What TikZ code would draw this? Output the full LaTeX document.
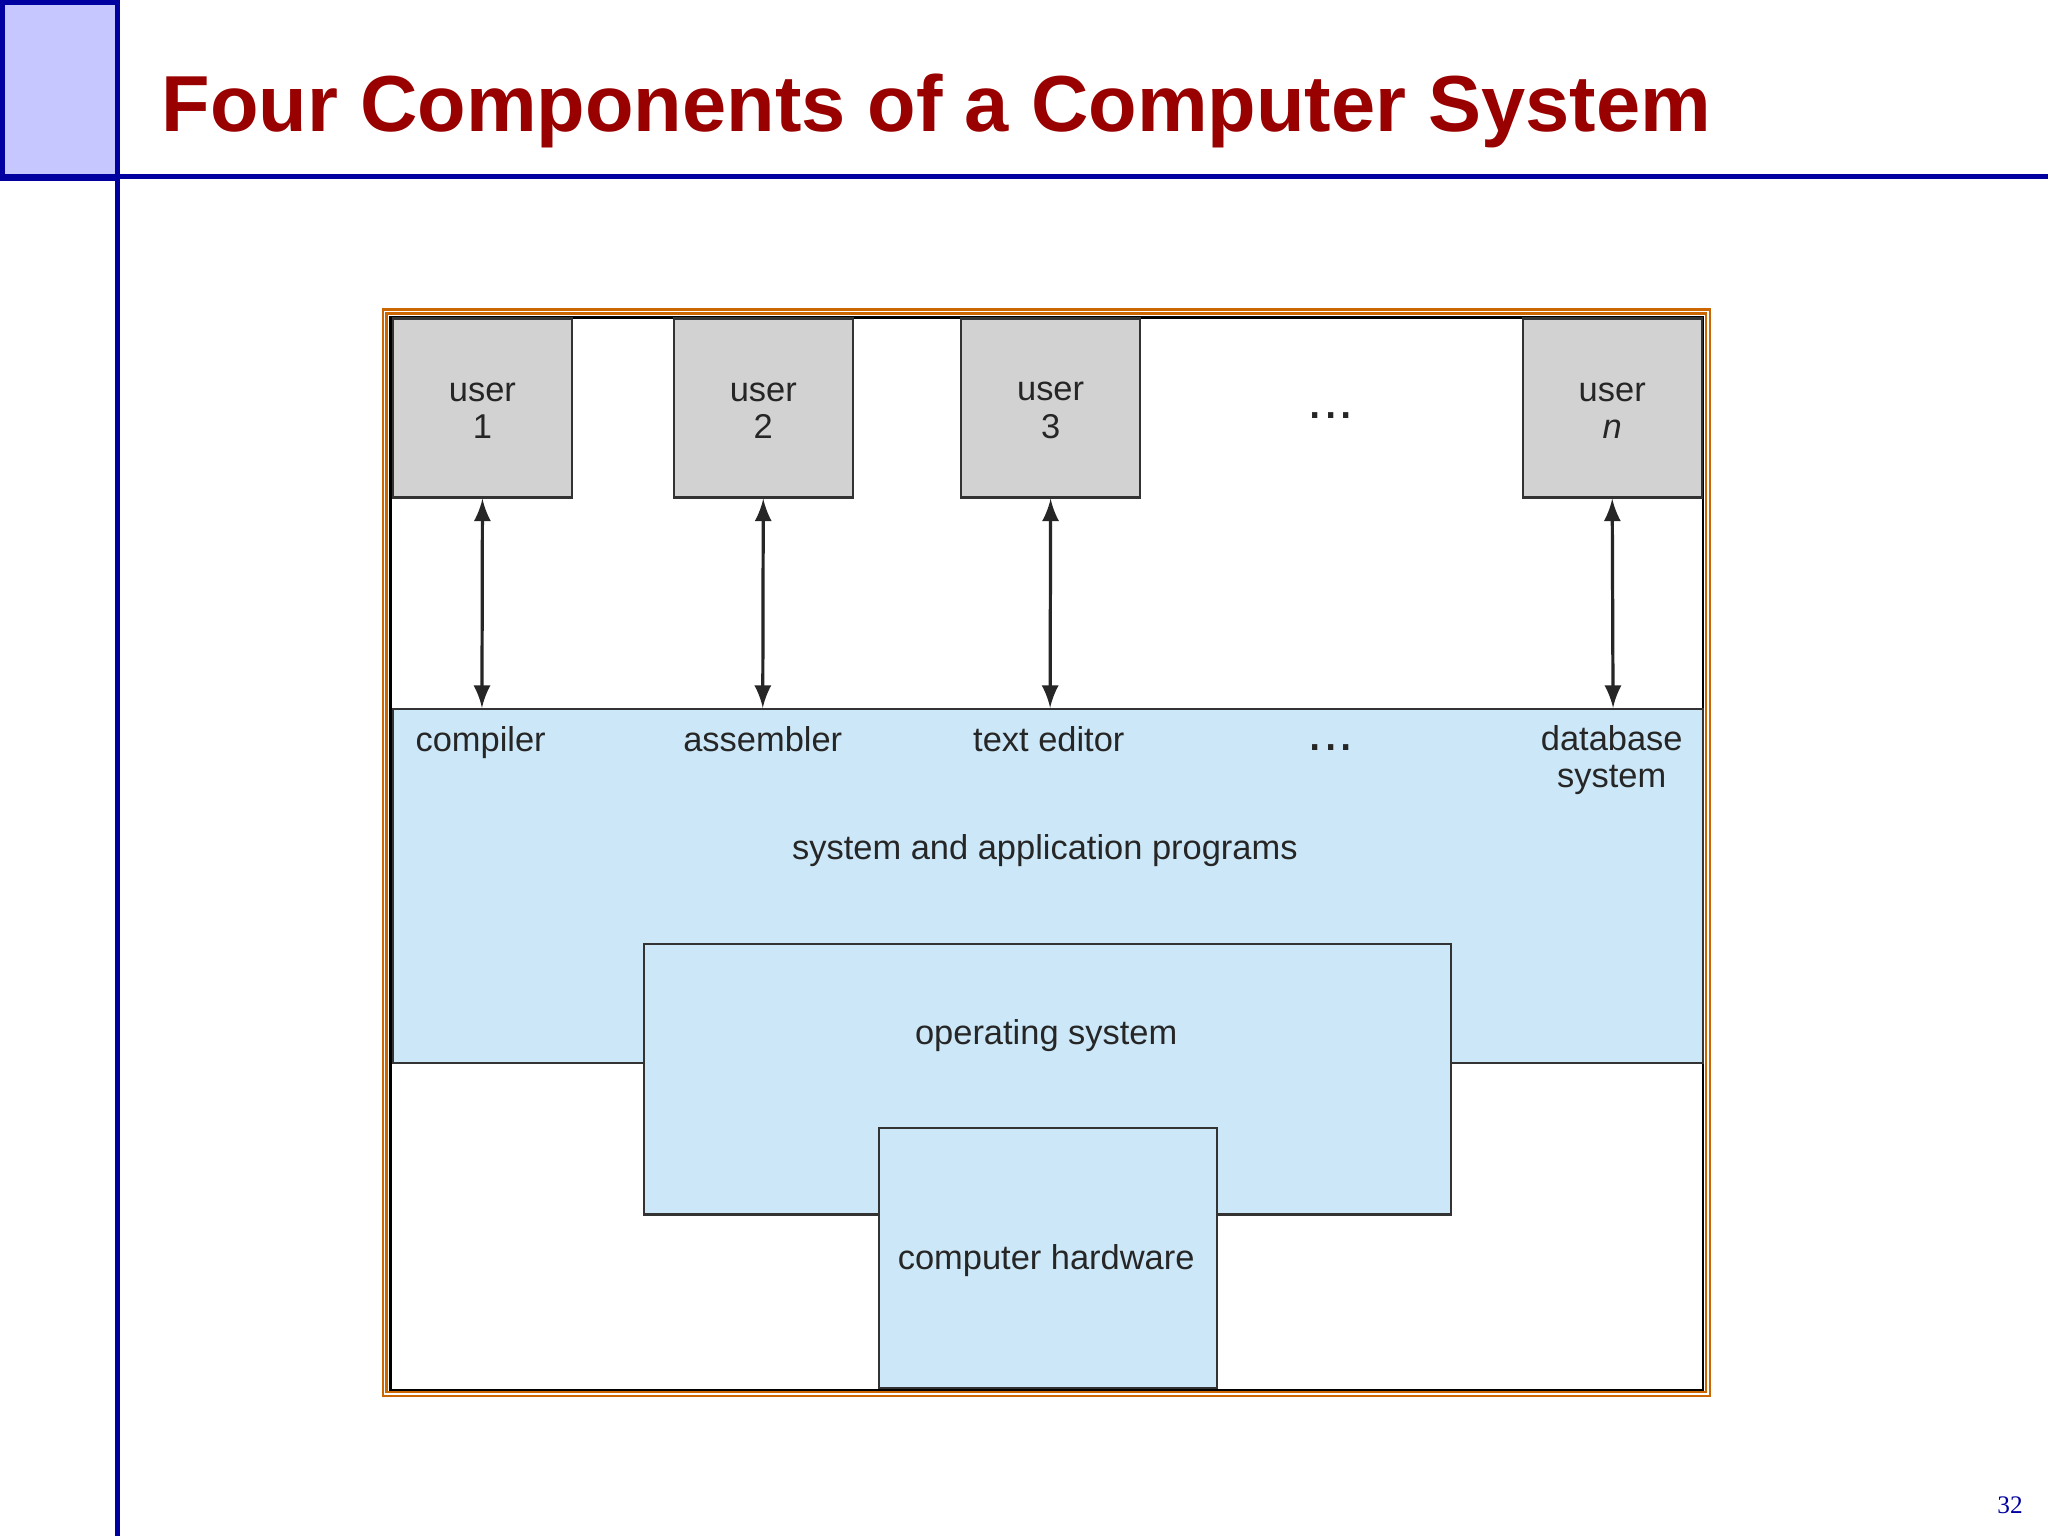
\documentclass[tikz,border=0pt]{standalone}
\usepackage{fontspec}
\setmainfont{Liberation Sans}
\begin{document}
\begin{tikzpicture}[x=0.01cm,y=-0.01cm,
 usr/.style={draw=black!80,fill=gray!35,line width=0.5pt},
 blu/.style={draw=black!80,line width=0.5pt},
 lbl/.style={font=\fontsize{7.5}{8.2}\selectfont,text=black!85,align=center,inner sep=0},
 arr/.style={<->,>=latex,line width=0.7pt,black!85}]
\definecolor{lb}{HTML}{CCE8F8}
\definecolor{navy}{HTML}{0000A0}
\useasboundingbox (0,0) rectangle (1568,1176);
\fill[white] (0,0) rectangle (1568,1176);
\node[draw=navy,fill=blue!22,line width=1pt,minimum width=88*0.01cm,minimum height=135*0.01cm,anchor=north west,inner sep=0] (sq) at (0,0) {};
\draw[navy,line width=1.2pt] (90,0) -- (90,1176);
\draw[navy,line width=1.2pt] (0,135) -- (1568,135);
\node[anchor=base west,inner sep=0,text={rgb,255:red,153;green,0;blue,0},font=\fontsize{17.3}{20}\selectfont\bfseries] (title) at (123,101) {Four Components of a Computer System};
\node[anchor=base,inner sep=0,text=navy,font=\fontspec{Liberation Serif}\fontsize{5.5}{6}\selectfont] (pg) at (1539,1159) {32};
\draw[orange!80!black,line width=0.5pt] (293,237) rectangle (1309,1069);
\draw[orange!80!black,line width=0.5pt] (296,240) rectangle (1306,1066);
\draw[black,line width=0.5pt] (299,243) rectangle (1304,1064);
\foreach \n/\x/\t in {u1/300/1,u2/515/2,u3/735/3,un/1165/\textit{n}}{
 \node[usr,anchor=north west,minimum width=137*0.01cm,minimum height=137*0.01cm,inner sep=0] (\n) at (\x,243) {};
 \node[lbl] at ([yshift=-0.02cm]\n.center) {user\\\t};
}
\node[lbl,font=\fontsize{12}{12}\selectfont] (d1) at (1019,318) {...};
\node[blu,fill=lb,anchor=north west,minimum width=1003*0.01cm,minimum height=271*0.01cm,inner sep=0] (prog) at (300,542) {};
\node[blu,fill=lb,anchor=north west,minimum width=618*0.01cm,minimum height=207*0.01cm,inner sep=0] (os) at (492,722) {};
\node[blu,fill=lb,anchor=north west,minimum width=259*0.01cm,minimum height=199*0.01cm,inner sep=0] (hw) at (672,863) {};
\node[lbl,anchor=base] (c1) at (368,575) {compiler};
\node[lbl,anchor=base] (c2) at (584,575) {assembler};
\node[lbl,anchor=base] (c3) at (803,575) {text editor};
\node[lbl,font=\fontsize{12}{12}\selectfont] (d2) at (1019,572) {...};
\node[lbl] (c4) at (1234,582) {database\\system};
\node[lbl] at (800,651) {system and application programs};
\node[lbl] at (801,793) {operating system};
\node[lbl] at (801,965) {computer hardware};
\coordinate (p1) at (369,542); \coordinate (p2) at (584,542);
\coordinate (p3) at (804,542); \coordinate (p4) at (1235,542);
\draw[arr] (u1.south) -- (p1);
\draw[arr] (u2.south) -- (p2);
\draw[arr] (u3.south) -- (p3);
\draw[arr] (un.south) -- (p4);
\end{tikzpicture}
\end{document}
